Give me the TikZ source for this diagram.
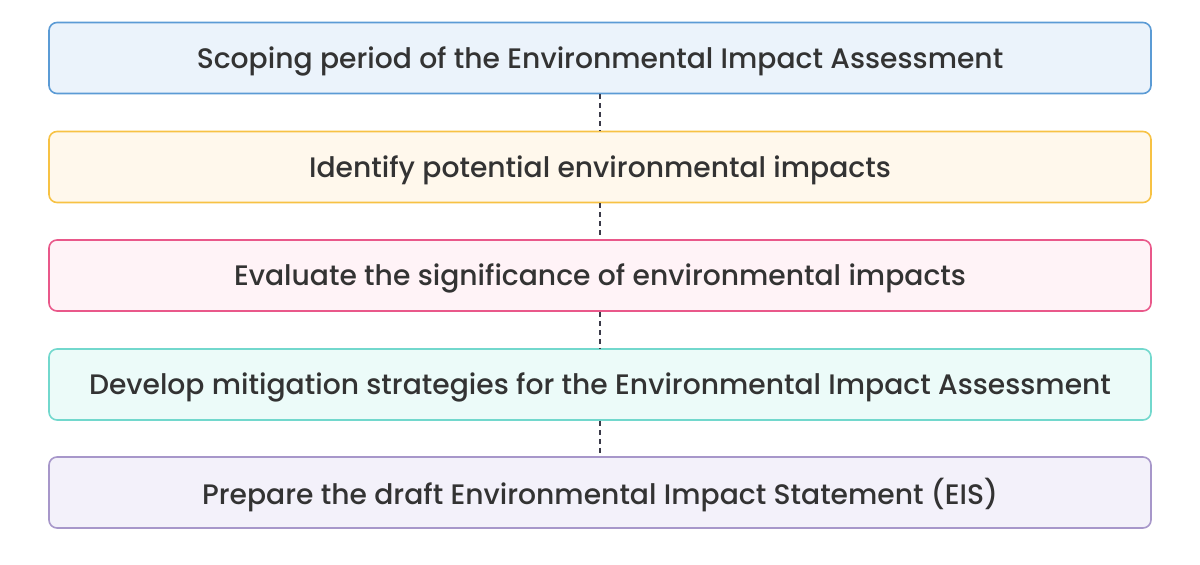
\documentclass[tikz,border=0pt]{standalone}
\usepackage{fontspec}
\setmainfont{Poppins Medium}
\definecolor{txt}{HTML}{333333}
\definecolor{b1}{HTML}{5B9BD5}\definecolor{f1}{HTML}{EBF3FB}
\definecolor{b2}{HTML}{F7C244}\definecolor{f2}{HTML}{FFF8EC}
\definecolor{b3}{HTML}{E9588A}\definecolor{f3}{HTML}{FFF3F7}
\definecolor{b4}{HTML}{72D8CD}\definecolor{f4}{HTML}{ECFBF9}
\definecolor{b5}{HTML}{A797CA}\definecolor{f5}{HTML}{F3F1FA}
\definecolor{dash}{HTML}{3A3A48}
\tikzset{
  stepbox/.style={draw, line width=1.6pt, rounded corners=8pt, minimum width=1102pt, minimum height=71pt, inner sep=0pt, text=txt, font=\fontsize{28.2}{32}\selectfont},
  link/.style={draw=dash, line width=1.4pt, dash pattern=on 5pt off 4pt}
}
\begin{document}
\begin{tikzpicture}[x=1pt,y=-1pt]
\useasboundingbox (0,0) rectangle (1200,565);
\node[stepbox, draw=b1, fill=f1] (s1) at (600,58) {};
\node[stepbox, draw=b2, fill=f2] (s2) at (600,167) {};
\node[stepbox, draw=b3, fill=f3] (s3) at (600,275.5) {};
\node[stepbox, draw=b4, fill=f4] (s4) at (600,384.5) {};
\node[stepbox, draw=b5, fill=f5] (s5) at (600,492.5) {};
\node[text=txt, font=\fontsize{28.2}{32}\selectfont, inner sep=0pt] (t1) at ([yshift=-3pt]s1.center) {Scoping period of the Environmental Impact Assessment};
\node[text=txt, font=\fontsize{28.2}{32}\selectfont, inner sep=0pt] (t2) at ([yshift=-3pt]s2.center) {Identify potential environmental impacts};
\node[text=txt, font=\fontsize{28.2}{32}\selectfont, inner sep=0pt] (t3) at ([yshift=-3pt]s3.center) {Evaluate the significance of environmental impacts};
\node[text=txt, font=\fontsize{28.2}{32}\selectfont, inner sep=0pt] (t4) at ([yshift=-3pt]s4.center) {Develop mitigation strategies for the Environmental Impact Assessment};
\node[text=txt, font=\fontsize{28.2}{32}\selectfont, inner sep=0pt] (t5) at ([yshift=-3pt]s5.center) {Prepare the draft Environmental Impact Statement (EIS)};
\path[link] (s1) -- (s2);
\path[link] (s2) -- (s3);
\path[link] (s3) -- (s4);
\path[link] (s4) -- (s5);
\end{tikzpicture}
\end{document}
